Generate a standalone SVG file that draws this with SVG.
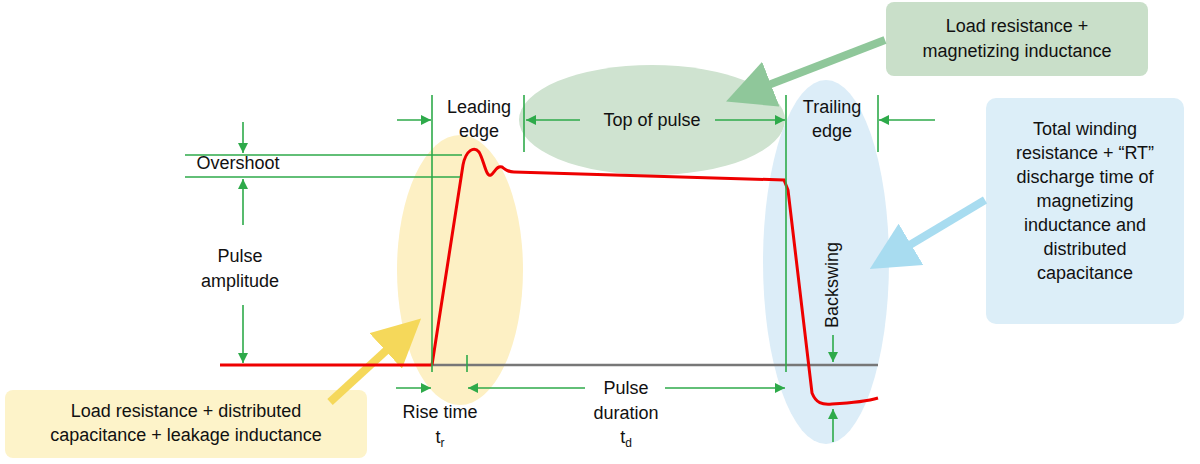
<svg xmlns="http://www.w3.org/2000/svg" width="1200" height="464" viewBox="0 0 1200 464">
<style>
text{font-family:"Liberation Sans",Arial,sans-serif;font-size:18px;fill:#111;text-anchor:middle}
.g{stroke:#2eaa4a;stroke-width:1.6;fill:none}
.a{stroke:#2eaa4a;stroke-width:1.6;fill:none;marker-end:url(#ah)}
</style>
<defs>
<marker id="ah" viewBox="0 0 10 10" refX="10" refY="5" markerWidth="10" markerHeight="10" markerUnits="userSpaceOnUse" orient="auto"><path d="M0,0L10,5L0,10z" fill="#2eaa4a"/></marker>
<marker id="bg" viewBox="0 0 10 10" refX="8" refY="5" markerWidth="6" markerHeight="6" orient="auto"><path d="M0,0L10,5L0,10z" fill="#8fc79a"/></marker>
<marker id="bb" viewBox="0 0 10 10" refX="8" refY="5" markerWidth="6" markerHeight="6" orient="auto"><path d="M0,0L10,5L0,10z" fill="#a8dcf0"/></marker>
<marker id="by" viewBox="0 0 10 10" refX="8" refY="5" markerWidth="6" markerHeight="6" orient="auto"><path d="M0,0L10,5L0,10z" fill="#f5d85a"/></marker>
</defs>
<rect width="1200" height="464" fill="#fff"/>
<g id="regions">
<ellipse cx="460" cy="270" rx="63" ry="135" fill="#fdf0c4"/>
<ellipse cx="652" cy="120" rx="133" ry="55" fill="#cfe3d0"/>
<ellipse cx="826" cy="262" rx="63" ry="182" fill="#dcedf8"/>
</g>
<g id="box-green"><rect x="886" y="2" width="262" height="74" rx="8" fill="#c9dfc9"/><text x="1017" y="32">Load resistance +</text><text x="1017" y="57">magnetizing inductance</text></g>
<g id="box-blue"><rect x="986" y="98" width="198" height="226" rx="10" fill="#dceef8"/>
<text x="1085" y="135">Total winding</text><text x="1085" y="159">resistance + “RT”</text><text x="1085" y="183">discharge time of</text><text x="1085" y="207">magnetizing</text><text x="1085" y="231">inductance and</text><text x="1085" y="255">distributed</text><text x="1085" y="279">capacitance</text></g>
<g id="box-yellow"><rect x="5" y="390" width="362" height="68" rx="8" fill="#fdf3c9"/><text x="186" y="417">Load resistance + distributed</text><text x="186" y="441">capacitance + leakage inductance</text></g>
<g id="connectors">
<line x1="885" y1="40" x2="735" y2="98" stroke="#8fc79a" stroke-width="8" marker-end="url(#bg)"/>
<line x1="985" y1="200" x2="878" y2="264" stroke="#a8dcf0" stroke-width="8" marker-end="url(#bb)"/>
<line x1="330" y1="402" x2="414" y2="325" stroke="#f5d85a" stroke-width="8" marker-end="url(#by)"/>
<line x1="220" y1="365" x2="432" y2="365" stroke="#e00" stroke-width="3"/>
<line x1="432" y1="365" x2="878" y2="365" stroke="#777" stroke-width="2.5"/>
<path d="M432,365L463,165C466,150 474,146 479,152C484,160 486,178 491,175C495,172 497,165 502,167C506,170 508,172 514,172L784,180L788,190L812,393C816,403 822,405 832,404C850,403 865,402 878,398" fill="none" stroke="#e00" stroke-width="3"/>
<line class="g" x1="432" y1="95" x2="432" y2="372"/>
<line class="g" x1="524" y1="95" x2="524" y2="152"/>
<line class="g" x1="786" y1="95" x2="786" y2="372"/>
<line class="g" x1="878" y1="95" x2="878" y2="152"/>
<line class="g" x1="467" y1="355" x2="467" y2="372"/>
<line class="g" x1="185" y1="155" x2="462" y2="155"/>
<line class="g" x1="185" y1="177" x2="460" y2="177"/>
<line class="a" x1="397" y1="120" x2="431" y2="120"/>
<line class="a" x1="580" y1="120" x2="526" y2="120"/>
<line class="a" x1="715" y1="120" x2="785" y2="120"/>
<line class="a" x1="935" y1="120" x2="879" y2="120"/>
<line class="a" x1="243" y1="122" x2="243" y2="153"/>
<line class="a" x1="243" y1="225" x2="243" y2="179"/>
<line class="a" x1="243" y1="305" x2="243" y2="363"/>
<line class="a" x1="396" y1="388" x2="431" y2="388"/>
<line class="a" x1="585" y1="388" x2="468" y2="388"/>
<line class="a" x1="665" y1="388" x2="785" y2="388"/>
<line class="a" x1="833" y1="335" x2="833" y2="362"/>
<line class="a" x1="833" y1="442" x2="833" y2="409"/>
</g>
<g id="labels">
<text x="479" y="113">Leading</text><text x="479" y="137">edge</text>
<text x="652" y="126">Top of pulse</text>
<text x="832" y="113">Trailing</text><text x="832" y="137">edge</text>
<text x="238" y="169">Overshoot</text>
<text x="240" y="262">Pulse</text><text x="240" y="287">amplitude</text>
<text x="440" y="418">Rise time</text><text x="440" y="443">t<tspan font-size="12" dy="4">r</tspan></text>
<text x="626" y="394">Pulse</text><text x="626" y="419">duration</text><text x="626" y="443">t<tspan font-size="12" dy="4">d</tspan></text>
<text transform="translate(838,285) rotate(-90)">Backswing</text>
</g>
</svg>
